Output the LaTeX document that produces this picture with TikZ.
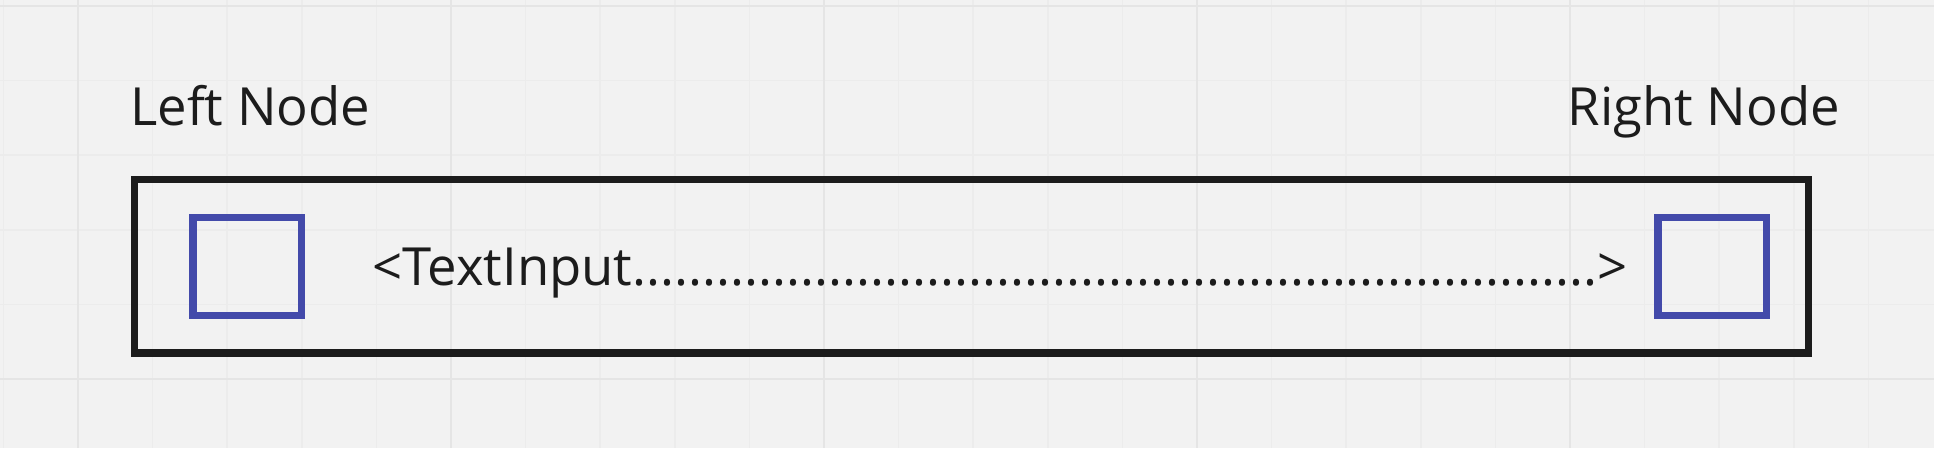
\documentclass[tikz,border=0pt]{standalone}
\usepackage{fontspec}
\setmainfont{Open Sans}
\definecolor{bgc}{HTML}{F2F2F2}
\definecolor{minorc}{HTML}{ECECEC}
\definecolor{majorc}{HTML}{E5E5E5}
\definecolor{inkc}{HTML}{1C1C1C}
\definecolor{bluec}{HTML}{434AAA}
\tikzset{
  minorline/.style={draw=minorc, line width=1.5pt},
  majorline/.style={draw=majorc, line width=2.2pt},
  framebox/.style={draw=inkc, line width=7.5pt, inner sep=0pt, minimum width=1674pt, minimum height=173.5pt},
  portbox/.style={draw=bluec, line width=7.3pt, inner sep=0pt, minimum width=108.5pt, minimum height=98pt},
  labeltext/.style={text=inkc, inner sep=0pt, font=\fontsize{52.6}{60}\selectfont}
}
\begin{document}
\begin{tikzpicture}[x=1pt,y=-1pt]
\useasboundingbox (0,0) rectangle (1934,448);
\fill[bgc] (0,0) rectangle (1934,448);
\foreach \i in {0,...,26} {
  \draw[minorline] ({3.4+74.6*\i},0) -- ({3.4+74.6*\i},448);
}
\foreach \j in {-1,...,6} {
  \draw[minorline] (0,{6+74.6*\j}) -- (1934,{6+74.6*\j});
}
\foreach \i in {0,...,4} {
  \draw[majorline] ({78+373*\i},0) -- ({78+373*\i},448);
}
\draw[majorline] (0,6) -- (1934,6);
\draw[majorline] (0,379) -- (1934,379);

\node[framebox] (frame) at (971.5,266.25) {};
\node[portbox] (lsq) at (247.2,266.5) {};
\node[portbox] (rsq) at (1712.3,266.5) {};
\node[labeltext, anchor=base west] (llabel) at (130,125) {Left Node};
\node[labeltext, anchor=base east] (rlabel) at (1840,125) {Right Node};
\node[labeltext, anchor=base west] (input) at (372,285) {<TextInput.....................................................................>};
\end{tikzpicture}
\end{document}
